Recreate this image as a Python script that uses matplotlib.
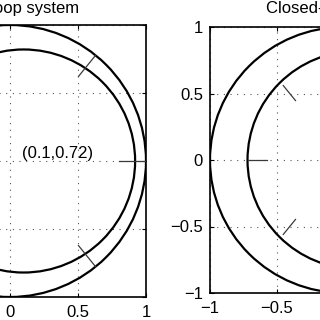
import numpy as np
import matplotlib
matplotlib.use("Agg")
import matplotlib.pyplot as plt
from matplotlib.patches import Circle

plt.rcParams['font.family'] = ['Liberation Sans', 'DejaVu Sans']
plt.rcParams['font.size'] = 12

# ---- data ----
titles = ["Open-loop system", "Closed-loop system"]
# circles: (center_x, center_y, radius)
outer_circle = (0.0, 0.0, 1.0)
inner_circle = (0.1, 0.0, 0.82)
# radial marker segments (angle in degrees, r_start, r_end)
open_mark_angles = [51, 0, -51]
open_mark_r = (0.80, 1.00)
closed_mark_angles = [129, 180, -129]
closed_mark_r = (0.575, 0.72)
annot_text = "(0.1,0.72)"
annot_pos = (0.35, 0.055)
ticks = [-1, -0.5, 0, 0.5, 1]
tick_labels = ["\u22121", "\u22120.5", "0", "0.5", "1"]

fig = plt.figure(figsize=(3.2, 3.2), dpi=100)
ax1 = fig.add_axes([-0.39375, 0.071875, 0.85, 0.85])
ax2 = fig.add_axes([0.65625, 0.084375, 0.8375, 0.83125])

def style(ax):
    ax.set_xlim(-1, 1)
    ax.set_ylim(-1, 1)
    ax.set_xticks(ticks)
    ax.set_yticks(ticks)
    ax.set_xticklabels(tick_labels)
    ax.set_yticklabels(tick_labels)
    ax.tick_params(direction='in', length=3, width=0.8, top=True, right=True,
                   labelsize=12, colors='black')
    ax.tick_params(axis='x', pad=6)
    ax.tick_params(axis='y', pad=5)
    ax.grid(True, color='#555555', linestyle=(0, (1, 5)), linewidth=0.8)
    for s in ax.spines.values():
        s.set_linewidth(1.2)
        s.set_color('black')
    for c in (outer_circle, inner_circle):
        ax.add_patch(Circle((c[0], c[1]), c[2], fill=False, edgecolor='black',
                            linewidth=1.6, zorder=3))

def marks(ax, angles, rr):
    for a in angles:
        t = np.deg2rad(a)
        ax.plot([rr[0] * np.cos(t), rr[1] * np.cos(t)],
                [rr[0] * np.sin(t), rr[1] * np.sin(t)],
                color='#3a3a3a', linewidth=0.9, zorder=4)

style(ax1)
style(ax2)
marks(ax1, open_mark_angles, open_mark_r)
marks(ax2, closed_mark_angles, closed_mark_r)
ax1.text(annot_pos[0], annot_pos[1], annot_text, ha='center', va='center',
         fontsize=12, zorder=5)

ax1.set_title(titles[0], fontsize=12, pad=8.5, x=0.505)
ax2.set_title(titles[1], fontsize=12, pad=10, x=0.481)

fig.savefig("out.png", dpi=100)
